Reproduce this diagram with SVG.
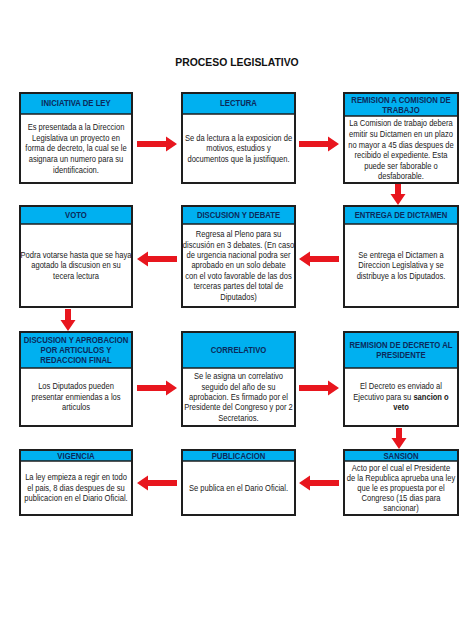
<svg xmlns="http://www.w3.org/2000/svg" width="474" height="632" viewBox="0 0 474 632">
<style>
.bg{fill:#ffffff}
.body{fill:#ffffff}
.head{fill:#00b0f0}
.frame{fill:none;stroke:#1e1e1e;stroke-width:2}
.sep{stroke:#1e1e1e;stroke-width:1.3}
.title{font-family:"Liberation Sans",Arial,sans-serif;font-weight:bold;font-size:10.4px;fill:#111;text-anchor:middle}
.hd{font-family:"Liberation Sans",Arial,sans-serif;font-weight:bold;font-size:8.8px;fill:#0b2a5b;text-anchor:middle}
.bd{font-family:"Liberation Sans",Arial,sans-serif;font-size:8.6px;fill:#1a1a1a;text-anchor:middle}
.b{font-weight:bold}
.arr{fill:#e8161e}
</style>
<rect class="bg" x="0" y="0" width="474" height="632"/>
<text class="title" x="237" y="66">PROCESO LEGISLATIVO</text>

<g id="n-iniciativa">
<rect class="body" x="20" y="93" width="112" height="90"/>
<rect class="head" x="20" y="93" width="112" height="21"/>
<line class="sep" x1="20" y1="114" x2="132" y2="114"/>
<rect class="frame" x="20" y="93" width="112" height="90"/>
<g transform="translate(76 0) scale(0.88 1)">
<text class="hd" x="0" y="106.5">INICIATIVA DE LEY</text>
<text class="bd" x="0" y="130.3">Es presentada  a la Direccion</text>
<text class="bd" x="0" y="140.9">Legislativa un proyecto en</text>
<text class="bd" x="0" y="151.5">forma de decreto, la cual se le</text>
<text class="bd" x="0" y="162.1">asignara un numero para su</text>
<text class="bd" x="0" y="172.7">identificacion.</text>
</g>
</g>

<g id="n-lectura">
<rect class="body" x="182" y="93" width="113" height="90"/>
<rect class="head" x="182" y="93" width="113" height="21"/>
<line class="sep" x1="182" y1="114" x2="295" y2="114"/>
<rect class="frame" x="182" y="93" width="113" height="90"/>
<g transform="translate(238.5 0) scale(0.88 1)">
<text class="hd" x="0" y="106.5">LECTURA</text>
<text class="bd" x="0" y="141">Se da lectura a la exposicion de</text>
<text class="bd" x="0" y="151.5">motivos, estudios y</text>
<text class="bd" x="0" y="162">documentos que la justifiquen.</text>
</g>
</g>

<g id="n-remision-comision">
<rect class="body" x="344" y="93" width="114" height="90"/>
<rect class="head" x="344" y="93" width="114" height="23"/>
<line class="sep" x1="344" y1="116" x2="458" y2="116"/>
<rect class="frame" x="344" y="93" width="114" height="90"/>
<g transform="translate(401 0) scale(0.88 1)">
<text class="hd" x="0" y="103">REMISION A COMISION DE</text>
<text class="hd" x="0" y="113">TRABAJO</text>
<text class="bd" x="0" y="126.5">La Comision de trabajo debera</text>
<text class="bd" x="0" y="137">emitir su Dictamen en un plazo</text>
<text class="bd" x="0" y="147.7">no mayor a 45 dias despues de</text>
<text class="bd" x="0" y="158.3">recibido el expediente. Esta</text>
<text class="bd" x="0" y="169">puede ser faborable o</text>
<text class="bd" x="0" y="179.5">desfaborable.</text>
</g>
</g>

<g id="n-voto">
<rect class="body" x="20" y="206" width="112" height="101"/>
<rect class="head" x="20" y="206" width="112" height="18"/>
<line class="sep" x1="20" y1="224" x2="132" y2="224"/>
<rect class="frame" x="20" y="206" width="112" height="101"/>
<g transform="translate(76 0) scale(0.88 1)">
<text class="hd" x="0" y="218.5">VOTO</text>
<text class="bd" x="0" y="258">Podra votarse hasta que se haya</text>
<text class="bd" x="0" y="268.5">agotado la discusion en su</text>
<text class="bd" x="0" y="279">tecera lectura</text>
</g>
</g>

<g id="n-discusion-debate">
<rect class="body" x="182" y="206" width="113" height="101"/>
<rect class="head" x="182" y="206" width="113" height="18"/>
<line class="sep" x1="182" y1="224" x2="295" y2="224"/>
<rect class="frame" x="182" y="206" width="113" height="101"/>
<g transform="translate(238.5 0) scale(0.88 1)">
<text class="hd" x="0" y="218.5">DISCUSION Y DEBATE</text>
<text class="bd" x="0" y="237.3">Regresa al Pleno para su</text>
<text class="bd" x="0" y="247.7">discusión en 3 debates. (En caso</text>
<text class="bd" x="0" y="258.1">de urgencia nacional  podra ser</text>
<text class="bd" x="0" y="268.5">aprobado en un solo debate</text>
<text class="bd" x="0" y="278.9">con el voto favorable de las dos</text>
<text class="bd" x="0" y="289.3">terceras partes del total de</text>
<text class="bd" x="0" y="299.7">Diputados)</text>
</g>
</g>

<g id="n-entrega">
<rect class="body" x="344" y="206" width="114" height="101"/>
<rect class="head" x="344" y="206" width="114" height="18"/>
<line class="sep" x1="344" y1="224" x2="458" y2="224"/>
<rect class="frame" x="344" y="206" width="114" height="101"/>
<g transform="translate(401 0) scale(0.88 1)">
<text class="hd" x="0" y="218.5">ENTREGA DE DICTAMEN</text>
<text class="bd" x="0" y="258">Se entrega el Dictamen a</text>
<text class="bd" x="0" y="268.5">Direccion Legislativa y se</text>
<text class="bd" x="0" y="279">distribuye a los Diputados.</text>
</g>
</g>

<g id="n-discusion-aprobacion">
<rect class="body" x="20" y="332" width="112" height="94"/>
<rect class="head" x="20" y="332" width="112" height="36"/>
<line class="sep" x1="20" y1="368" x2="132" y2="368"/>
<rect class="frame" x="20" y="332" width="112" height="94"/>
<g transform="translate(76 0) scale(0.88 1)">
<text class="hd" x="0" y="343">DISCUSION Y APROBACION</text>
<text class="hd" x="0" y="353">POR ARTICULOS Y</text>
<text class="hd" x="0" y="363">REDACCION FINAL</text>
<text class="bd" x="0" y="389.5">Los Diputados pueden</text>
<text class="bd" x="0" y="400">presentar enmiendas a los</text>
<text class="bd" x="0" y="410.5">articulos</text>
</g>
</g>

<g id="n-correlativo">
<rect class="body" x="182" y="332" width="113" height="94"/>
<rect class="head" x="182" y="332" width="113" height="36"/>
<line class="sep" x1="182" y1="368" x2="295" y2="368"/>
<rect class="frame" x="182" y="332" width="113" height="94"/>
<g transform="translate(238.5 0) scale(0.88 1)">
<text class="hd" x="0" y="353">CORRELATIVO</text>
<text class="bd" x="0" y="379.4">Se le asigna un correlativo</text>
<text class="bd" x="0" y="389.7">seguido del año de su</text>
<text class="bd" x="0" y="400">aprobacion. Es firmado por el</text>
<text class="bd" x="0" y="410.3">Presidente del Congreso y por 2</text>
<text class="bd" x="0" y="420.6">Secretarios.</text>
</g>
</g>

<g id="n-remision-decreto">
<rect class="body" x="344" y="332" width="114" height="94"/>
<rect class="head" x="344" y="332" width="114" height="36"/>
<line class="sep" x1="344" y1="368" x2="458" y2="368"/>
<rect class="frame" x="344" y="332" width="114" height="94"/>
<g transform="translate(401 0) scale(0.88 1)">
<text class="hd" x="0" y="348">REMISION DE DECRETO AL</text>
<text class="hd" x="0" y="358">PRESIDENTE</text>
<text class="bd" x="0" y="389.5">El Decreto es enviado al</text>
<text class="bd" x="0" y="400">Ejecutivo para su <tspan class="b">sancion o</tspan></text>
<text class="bd b" x="0" y="410.5">veto</text>
</g>
</g>

<g id="n-vigencia">
<rect class="body" x="20" y="450" width="112" height="65"/>
<rect class="head" x="20" y="450" width="112" height="11"/>
<line class="sep" x1="20" y1="461" x2="132" y2="461"/>
<rect class="frame" x="20" y="450" width="112" height="65"/>
<g transform="translate(76 0) scale(0.88 1)">
<text class="hd" x="0" y="458.8">VIGENCIA</text>
<text class="bd" x="0" y="480.5">La ley empieza a regir en todo</text>
<text class="bd" x="0" y="491">el pais, 8 dias despues de su</text>
<text class="bd" x="0" y="501.5">publicacion en el Diario Oficial.</text>
</g>
</g>

<g id="n-publicacion">
<rect class="body" x="182" y="450" width="113" height="65"/>
<rect class="head" x="182" y="450" width="113" height="11"/>
<line class="sep" x1="182" y1="461" x2="295" y2="461"/>
<rect class="frame" x="182" y="450" width="113" height="65"/>
<g transform="translate(238.5 0) scale(0.88 1)">
<text class="hd" x="0" y="458.8">PUBLICACION</text>
<text class="bd" x="0" y="491">Se publica en el Dario Oficial.</text>
</g>
</g>

<g id="n-sansion">
<rect class="body" x="344" y="450" width="114" height="65"/>
<rect class="head" x="344" y="450" width="114" height="11"/>
<line class="sep" x1="344" y1="461" x2="458" y2="461"/>
<rect class="frame" x="344" y="450" width="114" height="65"/>
<g transform="translate(401 0) scale(0.88 1)">
<text class="hd" x="0" y="458.8">SANSION</text>
<text class="bd" x="0" y="470.6">Acto por el cual el Presidente</text>
<text class="bd" x="0" y="480.8">de la Republica aprueba una ley</text>
<text class="bd" x="0" y="491">que le es propuesta por el</text>
<text class="bd" x="0" y="501.2">Congreso (15 dias para</text>
<text class="bd" x="0" y="511.4">sancionar)</text>
</g>
</g>

<g id="connectors">
<path class="arr" d="M137 141 H166 V136.5 L177 144 L166 151.5 V147 H137 Z"/>
<path class="arr" d="M299 141 H328 V136.5 L339 144 L328 151.5 V147 H299 Z"/>
<path class="arr" d="M395 184 H401 V194 H405.5 L398 205 L390.5 194 H395 Z"/>
<path class="arr" d="M339 256 H310 V251.5 L299 259 L310 266.5 V262 H339 Z"/>
<path class="arr" d="M177 256 H148 V251.5 L137 259 L148 266.5 V262 H177 Z"/>
<path class="arr" d="M65 309 H71 V320 H75.5 L68 331 L60.5 320 H65 Z"/>
<path class="arr" d="M137 385 H166 V380.5 L177 388 L166 395.5 V391 H137 Z"/>
<path class="arr" d="M299 385 H328 V380.5 L339 388 L328 395.5 V391 H299 Z"/>
<path class="arr" d="M396 428 H402 V438 H406.5 L399 449 L391.5 438 H396 Z"/>
<path class="arr" d="M339 480 H310 V475.5 L299 483 L310 490.5 V486 H339 Z"/>
<path class="arr" d="M177 480 H148 V475.5 L137 483 L148 490.5 V486 H177 Z"/>
</g>
</svg>
